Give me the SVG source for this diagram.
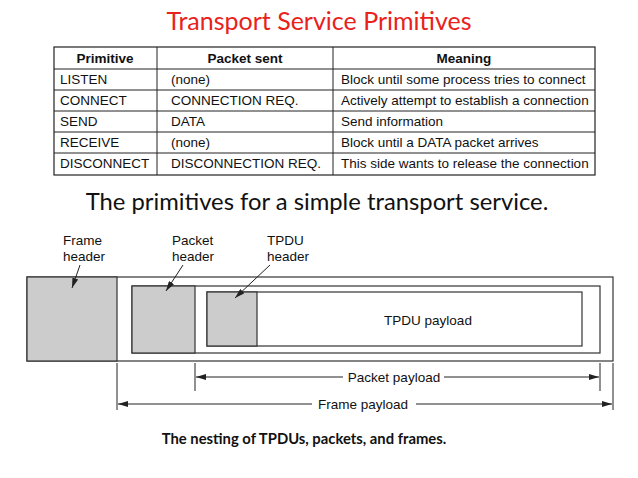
<svg xmlns="http://www.w3.org/2000/svg" width="638" height="478" viewBox="0 0 638 478">
<style>
.t{font-family:"Liberation Sans",Arial,sans-serif;font-size:13.5px;fill:#111}
.h{font-weight:bold}
.g{fill:#ccc;stroke:#333;stroke-width:1.2}
.w{fill:#fff;stroke:#333;stroke-width:1.2}
.l{stroke:#222;stroke-width:1;fill:none}
.c{font-family:Lato,"Open Sans",sans-serif}
</style>
<defs><marker id="a" viewBox="0 0 10 6" refX="10" refY="3" markerWidth="10" markerHeight="6" orient="auto-start-reverse" markerUnits="userSpaceOnUse"><path d="M0 0L10 3L0 6z" fill="#222"/></marker></defs>
<rect width="638" height="478" fill="#fff"/>
<text class="c" x="319" y="30" font-size="25" fill="#e8221b" text-anchor="middle">Transport Service Primitives</text>
<g id="table">
<rect x="54" y="47" width="541" height="128" fill="#fff" stroke="#222" stroke-width="1.2"/>
<path class="l" d="M54 69H595M54 90H595M54 111H595M54 132H595M54 153H595M157 47V175M333 47V175"/>
<g class="t">
<text class="h" x="105" y="63" text-anchor="middle">Primitive</text>
<text class="h" x="245" y="63" text-anchor="middle">Packet sent</text>
<text class="h" x="464" y="63" text-anchor="middle">Meaning</text>
<text x="60" y="84">LISTEN</text><text x="171" y="84">(none)</text><text x="341" y="84">Block until some process tries to connect</text>
<text x="60" y="105">CONNECT</text><text x="171" y="105">CONNECTION REQ.</text><text x="341" y="105">Actively attempt to establish a connection</text>
<text x="60" y="126">SEND</text><text x="171" y="126">DATA</text><text x="341" y="126">Send information</text>
<text x="60" y="147">RECEIVE</text><text x="171" y="147">(none)</text><text x="341" y="147">Block until a DATA packet arrives</text>
<text x="60" y="168">DISCONNECT</text><text x="171" y="168">DISCONNECTION REQ.</text><text x="341" y="168">This side wants to release the connection</text>
</g>
</g>
<text class="c" x="317" y="210" font-size="23.8" fill="#111" text-anchor="middle">The primitives for a simple transport service.</text>
<g id="frame"><rect class="w" x="27" y="277" width="586" height="84"/><rect class="g" x="27" y="277" width="90" height="84"/></g>
<g id="packet"><rect class="w" x="132" y="286" width="468" height="67"/><rect class="g" x="132" y="286" width="63" height="67"/></g>
<g id="tpdu"><rect class="w" x="207" y="292" width="375" height="54"/><rect class="g" x="207" y="292" width="50" height="54"/>
<text class="t" x="428" y="325" text-anchor="middle">TPDU payload</text></g>
<g id="labels" class="t">
<text x="63" y="245">Frame</text><text x="63" y="261">header</text>
<text x="172" y="245">Packet</text><text x="172" y="261">header</text>
<text x="267" y="245">TPDU</text><text x="267" y="261">header</text>
<text x="394" y="382" text-anchor="middle">Packet payload</text>
<text x="363" y="409" text-anchor="middle">Frame payload</text>
</g>
<g id="connectors">
<path class="l" d="M80 265L72 288" marker-end="url(#a)"/>
<path class="l" d="M183 265L166 291" marker-end="url(#a)"/>
<path class="l" d="M270 265L235 298" marker-end="url(#a)"/>
<path class="l" d="M117 363V410M195 363V391M600 363V391M613 363V410"/>
<path class="l" d="M196 377H343" marker-start="url(#a)"/><path class="l" d="M444 377H599" marker-end="url(#a)"/>
<path class="l" d="M118 404H312" marker-start="url(#a)"/><path class="l" d="M416 404H612" marker-end="url(#a)"/>
</g>
<text class="c" x="304" y="444" font-size="14.8" font-weight="bold" fill="#111" text-anchor="middle">The nesting of TPDUs, packets, and frames.</text>
</svg>
